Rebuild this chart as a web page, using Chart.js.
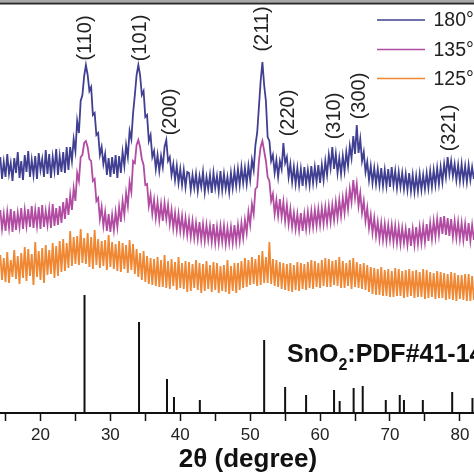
<!DOCTYPE html>
<html>
<head>
<meta charset="utf-8">
<script src="https://cdn.jsdelivr.net/npm/chart.js@4.4.1/dist/chart.umd.min.js"></script>
<style>
  html, body { margin: 0; padding: 0; background: #fff; }
  #wrap { width: 474px; height: 474px; overflow: hidden; }
</style>
</head>
<body>
<div id="wrap"><canvas id="xrdChart" width="474" height="474"></canvas></div>
<script>
// 2theta grid of the scans (degree)
const scanStart = 14.25;
const scanStep = 0.25;

// intensity (a.u., offset traces), one value per step
const navy180 = [
256,234,251,236, 259,239,250,232, 255,240,261,235, 252,233,258,241, 262,236,253,238,
257,234,260,243, 254,236,263,239, 259,235,256,242, 264,238,257,241, 261,240,266,243,
266,252,274,262, 292,280,312,318, 337,348,338,322, 326,298,300,278, 280,258,266,249,
259,238,255,236, 256,239,258,235, 257,240,261,247, 268,256,282,274, 300,318,338,348,
338,318,322,296, 298,272,278,256, 262,244,258,242, 257,246,266,273, 252,256,238,249,
233,247,230,244, 228,243,226,241, 240,223,238,225, 239,222,237,226, 241,221,236,224,
238,220,240,225, 237,222,242,223, 239,224,236,221, 240,225,242,227, 244,228,246,230,
245,229,247,233, 253,243,268,280, 306,332,351,328, 312,276,272,252, 258,240,253,236,
252,244,270,250, 256,236,249,231, 246,229,245,228, 244,227,246,229, 243,228,247,230,
246,231,248,230, 248,233,252,238, 258,245,266,244, 259,240,255,239, 257,242,261,247,
267,255,277,259, 288,260,274,252, 261,241,251,233, 247,230,245,229, 244,228,245,227,
243,227,244,226, 246,228,242,225, 241,226,240,224, 239,223,240,222, 238,221,237,222,
239,223,238,224, 240,225,242,226, 243,228,245,229, 246,231,249,236, 256,239,252,237,
249,233,248,232, 249,232,247,231, 248,233,246,234
];

const magenta135 = [
203,184,199,182, 201,185,204,181, 202,183,200,186, 205,184,203,187, 204,186,207,185,
203,187,206,184, 208,186,202,188, 204,185,209,187, 205,188,207,190, 211,194,215,198,
218,203,225,212, 240,232,256,258, 270,272,266,254, 252,232,234,212, 215,194,206,187,
201,182,199,181, 198,183,201,186, 206,191,212,198, 220,207,231,221, 252,250,268,273,
266,254,248,228, 229,207,218,199, 213,195,211,193, 209,192,210,194, 208,189,203,185,
200,183,199,182, 197,180,195,178, 193,176,192,175, 190,174,191,173, 189,172,188,173,
187,171,189,170, 186,170,187,171, 187,169,185,170, 186,170,188,171, 188,172,190,175,
193,180,201,188, 209,199,224,226, 252,266,272,262, 252,236,232,212, 219,199,213,197,
214,196,211,192, 208,189,204,186, 200,184,199,183, 200,182,199,184, 201,185,202,186,
203,187,204,188, 205,189,206,190, 207,191,208,193, 211,195,213,197, 215,200,219,204,
224,211,233,215, 229,207,220,200, 212,192,205,185, 198,180,195,177, 191,174,190,173,
189,172,188,173, 188,171,187,170, 186,169,185,170, 184,168,185,167, 184,168,186,169,
186,170,187,171, 189,172,190,174, 192,176,194,178, 196,179,197,178, 195,177,194,176,
192,175,191,174, 190,173,189,172, 190,172,188,173
];

const orange125 = [
158,133,155,131, 161,130,153,136, 163,134,157,129, 160,135,166,132, 164,137,159,128,
171,136,162,133, 165,130,168,138, 163,139,170,135, 167,137,172,141, 174,142,170,145,
182,147,176,149, 177,148,184,150, 175,149,180,146, 176,144,183,148, 174,145,172,147,
173,143,178,146, 171,144,169,142, 172,141,170,144, 168,140,173,143, 169,139,164,136,
160,133,162,131, 157,129,155,128, 154,127,156,126, 153,126,158,125, 152,124,154,127,
151,123,156,125, 150,124,152,121, 151,122,149,125, 153,123,150,120, 149,122,152,124,
148,121,151,123, 150,120,147,122, 148,121,153,119, 147,122,150,120, 150,123,152,125,
155,126,153,128, 156,129,154,127, 158,128,162,130, 156,130,171,129, 154,127,153,126,
151,124,150,123, 149,122,150,121, 148,123,151,122, 150,124,149,123, 151,125,153,124,
152,126,150,125, 153,127,155,126, 154,126,152,128, 153,127,156,125, 152,125,150,127,
153,124,155,126, 151,125,149,124, 150,123,148,121, 146,119,145,118, 144,118,146,117,
143,117,144,116, 142,116,145,117, 144,117,142,115, 143,116,144,117, 142,115,143,116,
141,116,144,114, 143,115,141,116, 140,114,142,115, 141,115,140,113, 139,114,141,113,
140,112,138,114, 138,113,139,112, 139,112,137,113
];

// SnO2 PDF#41-1445 reference lines
const stickPos = [26.3, 34.1, 38.1, 39.1, 42.8, 52.0, 55.0, 58.0, 62.0, 62.8, 64.8, 66.1, 69.4, 71.4, 72.0, 74.7, 78.9, 81.8];
const stickHeight = [118, 91, 34, 16, 13, 73, 26, 18, 23, 12, 25, 27, 13, 18, 13, 13, 21, 15];

// peak indexing
const peakHkl = ['(110)', '(101)', '(200)', '(211)', '(220)', '(310)', '(300)', '(321)'];
const peakAt = [26.47, 34.24, 38.53, 51.69, 55.51, 61.99, 65.57, 78.45];

const seriesNames = ['180°C', '135°C', '125°C'];
const tickValues = [15, 20, 25, 30, 35, 40, 45, 50, 55, 60, 65, 70, 75, 80];

// label centres (intensity units)
const peakLabelY = [375, 375, 301, 384, 300, 297, 317, 285];

const FONT = "'Liberation Sans', Arial, Helvetica, sans-serif";
const colNavy = '#403f92';
const colMag = '#b24ba2';
const colOrange = '#f08733';

function toPoints(vals) {
    return vals.map((v, i) => ({ x: scanStart + i * scanStep, y: v }));
}

const stickData = [];
stickPos.forEach((p, i) => {
    stickData.push({ x: p, y: 0 }, { x: p, y: stickHeight[i] }, { x: p, y: null });
});

const decorPlugin = {
    id: 'decor',
    beforeDraw(chart) {
        const c = chart.ctx;
        c.save();
        c.fillStyle = '#fff';
        c.fillRect(0, 0, chart.width, chart.height);
        c.restore();
    },
    afterDraw(chart) {
        const c = chart.ctx;
        const xs = chart.scales.x;
        const ys = chart.scales.y;
        c.save();

        // top frame line
        c.fillStyle = '#a8a8a8';
        c.fillRect(0, 0, chart.width, 2.5);
        c.strokeStyle = '#2a2a2a';
        c.lineWidth = 2;
        c.beginPath();
        c.moveTo(0, 3.5);
        c.lineTo(chart.width, 3.5);
        c.stroke();

        // legend
        const legCols = [colNavy, colMag, colOrange];
        const legY = [20, 49.5, 78.5];
        c.font = '19.5px ' + FONT;
        c.textBaseline = 'middle';
        c.textAlign = 'left';
        legCols.forEach((col, i) => {
            c.strokeStyle = col;
            c.lineWidth = 1.5;
            c.beginPath();
            c.moveTo(377, legY[i]);
            c.lineTo(425, legY[i]);
            c.stroke();
            c.fillStyle = '#222';
            c.fillText(seriesNames[i], 433.5, legY[i] + 1);
        });

        // hkl labels
        c.font = '20px ' + FONT;
        c.fillStyle = '#222';
        c.textAlign = 'center';
        c.textBaseline = 'middle';
        peakHkl.forEach((t, i) => {
            c.save();
            c.translate(xs.getPixelForValue(peakAt[i]), ys.getPixelForValue(peakLabelY[i]));
            c.rotate(-Math.PI / 2);
            c.fillText(t, 0, 0);
            c.restore();
        });

        // reference card label
        let tx = xs.getPixelForValue(55.27);
        const ty = ys.getPixelForValue(51);
        c.textAlign = 'left';
        c.textBaseline = 'alphabetic';
        c.fillStyle = '#111';
        c.font = 'bold 25px ' + FONT;
        c.fillText('SnO', tx, ty);
        tx += c.measureText('SnO').width;
        c.font = 'bold 16px ' + FONT;
        c.fillText('2', tx, ty + 8);
        tx += c.measureText('2').width;
        c.font = 'bold 25px ' + FONT;
        c.fillText(':PDF#41-1445', tx, ty);

        // x axis title
        c.font = 'bold 26px ' + FONT;
        c.textAlign = 'center';
        c.fillText('2θ (degree)', 248, 467);
        c.restore();
    }
};

const ctx = document.getElementById('xrdChart');

new Chart(ctx, {
    type: 'line',
    data: {
        datasets: [
            { label: seriesNames[2], data: toPoints(orange125), borderColor: colOrange, order: 0 },
            { label: seriesNames[1], data: toPoints(magenta135), borderColor: colMag, order: 1 },
            { label: seriesNames[0], data: toPoints(navy180), borderColor: colNavy, order: 2 },
            { label: 'PDF', data: stickData, borderColor: '#111', borderWidth: 2, spanGaps: false, order: 3 }
        ]
    },
    options: {
        responsive: false,
        animation: false,
        devicePixelRatio: 1,
        layout: { padding: { top: 3, left: 0, right: 0, bottom: 0 } },
        elements: {
            point: { radius: 0 },
            line: { borderWidth: 1.8, tension: 0, borderJoinStyle: 'miter' }
        },
        plugins: {
            legend: { display: false },
            tooltip: { enabled: false }
        },
        scales: {
            x: {
                type: 'linear',
                min: 14.21,
                max: 82.02,
                afterBuildTicks: (scale) => {
                    scale.ticks = tickValues.map(v => ({ value: v }));
                },
                afterFit: (scale) => {
                    scale.height = 61;
                },
                border: { display: true, color: '#111', width: 2 },
                grid: { drawOnChartArea: false, drawTicks: true, tickLength: 8, tickColor: '#111', tickWidth: 1.5 },
                ticks: {
                    autoSkip: false,
                    maxRotation: 0,
                    padding: 4,
                    color: '#222',
                    font: { family: FONT, size: 17 },
                    callback: (v) => (v % 10 === 0 ? String(v) : '')
                }
            },
            y: {
                display: false,
                min: 0,
                max: 410
            }
        }
    },
    plugins: [decorPlugin]
});
</script>
</body>
</html>
